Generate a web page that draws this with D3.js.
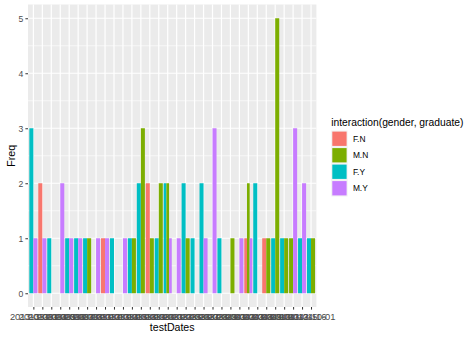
<!DOCTYPE html>
<html>
<head>
<meta charset="utf-8">
<script src="https://cdn.jsdelivr.net/npm/d3@7"></script>
<style>
  html, body { margin: 0; padding: 0; background: #fff; }
  svg { display: block; font-family: "Liberation Sans", Arial, sans-serif; }
</style>
</head>
<body>
<svg id="chart" width="474" height="338"></svg>
<script>
// ---- data ----
const testDates = ["2013-03-01","2013-03-04","2013-03-05","2013-03-06","2013-03-07","2013-03-08","2013-03-11","2013-03-12",
  "2013-03-13","2013-03-14","2013-03-15","2013-03-18","2013-03-19","2013-03-20","2013-03-21","2013-03-22",
  "2013-03-25","2013-03-26","2013-03-27","2013-03-28","2013-03-29","2013-04-01","2013-04-02","2013-04-03",
  "2013-04-08","2013-04-09","2013-04-10","2013-04-11","2013-04-12","2013-04-15","2013-04-16","2013-10-01"];
const groups = ["F.N", "M.N", "F.Y", "M.Y"];          // legend order
const dodgeOrder = ["F.N", "F.Y", "M.N", "M.Y"];      // order of bars within a date
const groupColors = ["#F8766D", "#7CAE00", "#00BFC4", "#C77CFF"];
// Freq per date (null = no row for that date, 0 = row with zero count)
const freqFN = [null,2,null,null,null,null,null,null,1,null,null,null,null,2,null,null,null,null,null,null,null,null,null,null,1,null,1,null,null,null,null,null];
const freqMN = [null,null,null,null,null,null,1,null,null,null,null,1,3,1,2,2,null,1,null,null,null,null,1,null,2,null,1,5,1,1,null,1];
const freqFY = [3,null,1,0,1,1,1,0,null,1,0,1,2,null,1,2,0,2,1,2,0,1,0,0,null,2,null,1,1,null,1,1];
const freqMY = [1,1,0,2,1,1,null,1,1,0,1,null,null,null,null,1,1,null,0,1,3,0,null,1,1,0,null,null,null,3,2,null];
const yTicks = [0, 1, 2, 3, 4, 5];

const series = { "F.N": freqFN, "M.N": freqMN, "F.Y": freqFY, "M.Y": freqMY };

// ---- layout ----
const svg = d3.select("#chart");
const panel = { left: 28, right: 316.4, top: 4.5, bottom: 307 };

const x = d3.scalePoint().domain(testDates).range([panel.left, panel.right]).padding(0.6);
const step = x.step();
const y = d3.scaleLinear().domain([-0.25, 5.25]).range([panel.bottom, panel.top]);
const color = d3.scaleOrdinal().domain(groups).range(groupColors);

// panel background
svg.append("rect").attr("x", panel.left).attr("y", panel.top)
  .attr("width", panel.right - panel.left).attr("height", panel.bottom - panel.top)
  .attr("fill", "#EBEBEB");

// minor grid (y)
const minor = yTicks.slice(0, -1).map(d => d + 0.5);
svg.append("g").selectAll("line").data(minor).join("line")
  .attr("x1", panel.left).attr("x2", panel.right)
  .attr("y1", d => y(d)).attr("y2", d => y(d))
  .attr("stroke", "#fff").attr("stroke-width", 0.6);
// major grid
svg.append("g").selectAll("line").data(yTicks).join("line")
  .attr("x1", panel.left).attr("x2", panel.right)
  .attr("y1", d => y(d)).attr("y2", d => y(d))
  .attr("stroke", "#fff").attr("stroke-width", 1.2);
svg.append("g").selectAll("line").data(testDates).join("line")
  .attr("x1", d => x(d)).attr("x2", d => x(d))
  .attr("y1", panel.top).attr("y2", panel.bottom)
  .attr("stroke", "#fff").attr("stroke-width", 1.2);

// bars
const rows = [];
testDates.forEach((dt, i) => {
  const present = dodgeOrder.filter(g => series[g][i] !== null);
  const n = present.length;
  const w = 0.9 * step / n;
  present.forEach((g, k) => {
    rows.push({ date: dt, group: g, value: series[g][i], x0: x(dt) - 0.45 * step + k * w, w: w });
  });
});
svg.append("g").selectAll("rect").data(rows.filter(r => r.value > 0)).join("rect")
  .attr("x", r => r.x0).attr("width", r => r.w)
  .attr("y", r => y(r.value)).attr("height", r => y(0) - y(r.value))
  .attr("fill", r => color(r.group));

// axes
const yAxis = d3.axisLeft(y).tickValues(yTicks).tickSize(2.6).tickPadding(2.2).tickFormat(d3.format("d"));
const gy = svg.append("g").attr("transform", `translate(${panel.left},0)`).call(yAxis);
gy.select(".domain").remove();
gy.selectAll("line").attr("stroke", "#333").attr("stroke-width", 1);
gy.selectAll("text").attr("fill", "#4D4D4D").attr("font-size", 8.6)
  .attr("font-family", "Liberation Sans, Arial, sans-serif");

const xAxis = d3.axisBottom(x).tickSize(2.6).tickPadding(3.6);
const gx = svg.append("g").attr("transform", `translate(0,${panel.bottom})`).call(xAxis);
gx.select(".domain").remove();
gx.selectAll("line").attr("stroke", "#333").attr("stroke-width", 1);
gx.selectAll("text").attr("fill", "#4D4D4D").attr("font-size", 9.4)
  .attr("font-family", "Liberation Sans, Arial, sans-serif");

// axis titles
svg.append("text").attr("x", (panel.left + panel.right) / 2).attr("y", 331)
  .attr("text-anchor", "middle").attr("font-size", 10.6).attr("fill", "#000").text("testDates");
svg.append("text").attr("transform", `translate(14.5,${(panel.top + panel.bottom) / 2}) rotate(-90)`)
  .attr("text-anchor", "middle").attr("font-size", 10.6).attr("fill", "#000").text("Freq");

// legend
const lg = svg.append("g").attr("transform", "translate(331.2,0)");
lg.append("text").attr("x", 0).attr("y", 125.5).attr("font-size", 10.3).attr("fill", "#000")
  .text("interaction(gender, graduate)");
const keyH = 16.5, keyTop = 130.5;
groups.forEach((g, i) => {
  const ky = keyTop + i * keyH;
  lg.append("rect").attr("x", 0).attr("y", ky).attr("width", keyH).attr("height", keyH).attr("fill", "#F2F2F2");
  lg.append("rect").attr("x", 1.1).attr("y", ky + 1.1).attr("width", keyH - 2.2).attr("height", keyH - 2.2)
    .attr("fill", color(g));
  lg.append("text").attr("x", keyH + 5.2).attr("y", ky + keyH / 2).attr("dy", "0.35em")
    .attr("font-size", 8.4).attr("fill", "#000").text(g);
});
</script>
</body>
</html>
